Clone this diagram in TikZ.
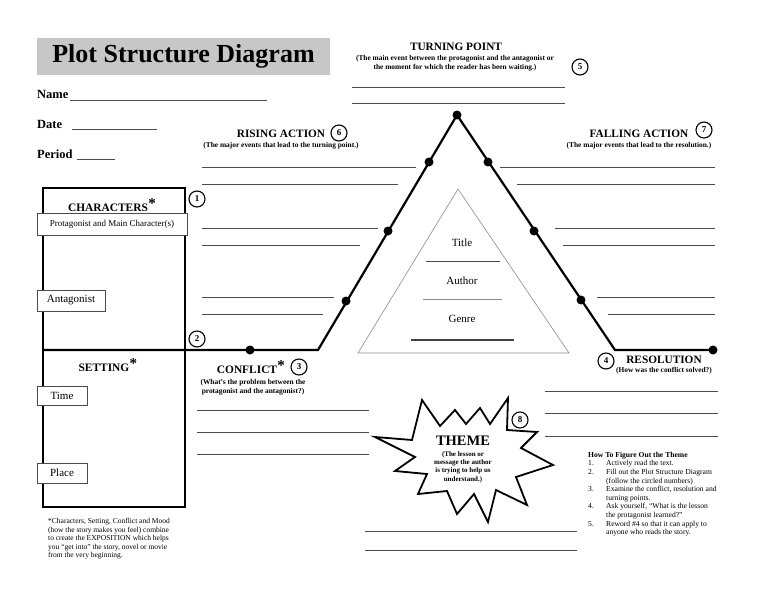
\documentclass[tikz,border=0pt]{standalone}
\usepackage{fontspec}
\setmainfont{Liberation Serif}
\begin{document}
\begin{tikzpicture}[x=1pt,y=-1pt,
  wline/.style={draw=black!70,line width=0.8pt},
  plot/.style={draw=black,line width=2.2pt},
  dot/.style={circle,fill=black,inner sep=0pt,minimum size=9pt},
  circ/.style={circle,draw=black,line width=1.1pt,minimum size=16pt,inner sep=0pt,font=\fontsize{9}{9}\selectfont\bfseries},
  head/.style={inner sep=0pt,font=\fontsize{11.3}{12}\selectfont\bfseries},
  sub/.style={inner sep=0pt,align=center,font=\fontsize{7.4}{8.8}\selectfont\bfseries},
  lbl/.style={inner sep=0pt,font=\fontsize{12.5}{14}\selectfont\bfseries},
  tag/.style={draw=black!70,line width=0.8pt,fill=white,inner sep=0pt,font=\fontsize{11}{12}\selectfont},
  ast/.style={inner sep=0pt,font=\fontsize{15}{15}\selectfont\bfseries},
  capt/.style={inner sep=0pt,font=\fontsize{11.4}{13}\selectfont\bfseries},
  tri/.style={inner sep=0pt,font=\fontsize{11}{12}\selectfont}
]
\useasboundingbox (0,0) rectangle (768,594);
\fill[white] (0,0) rectangle (768,594);

% title
\node[fill=black!22,minimum width=293pt,minimum height=37pt,inner sep=0pt,
      font=\fontsize{26}{28}\selectfont\bfseries] (title) at (183.5,56.5) {Plot Structure Diagram};

% name / date / period
\node[lbl,anchor=base west] (name) at (37,98) {Name};
\draw[wline] (70,100) -- (267,100);
\node[lbl,anchor=base west] (date) at (37,128) {Date};
\draw[wline] (72,129) -- (157,129);
\node[lbl,anchor=base west] (period) at (37,158) {Period};
\draw[wline] (77,159) -- (115,159);

% turning point
\node[head] (tp) at (456,47) {TURNING POINT};
\node[sub] (tpsub) at (455,63) {(The main event between the protagonist and the antagonist or\\the moment for which the reader has been waiting.)};
\node[circ] (c5) at (580,67) {5};
\draw[wline] (352,87) -- (565,87);
\draw[wline] (352,103) -- (565,103);

% rising action
\node[head] (ra) at (281,134) {RISING ACTION};
\node[circ] (c6) at (339,133) {6};
\node[sub] (rasub) at (281,146) {(The major events that lead to the turning point.)};
\draw[wline] (202,167) -- (416,167);
\draw[wline] (202,184) -- (398,184);
\draw[wline] (202,228) -- (378,228);
\draw[wline] (202,245) -- (360,245);
\draw[wline] (202,297) -- (334,297);
\draw[wline] (202,314) -- (323,314);

% falling action
\node[head] (fa) at (639,134) {FALLING ACTION};
\node[circ] (c7) at (704,130) {7};
\node[sub] (fasub) at (639,146) {(The major events that lead to the resolution.)};
\draw[wline] (500,167) -- (715,167);
\draw[wline] (517,184) -- (715,184);
\draw[wline] (555,228) -- (715,228);
\draw[wline] (563,245) -- (715,245);
\draw[wline] (597,297) -- (715,297);
\draw[wline] (608,314) -- (715,314);

% inner triangle
\draw[draw=black!45,line width=0.6pt] (458,189) -- (358,353) -- (569,353) -- cycle;
\node[tri] (ttl) at (462,243) {Title};
\draw[wline] (426,261) -- (500,261);
\node[tri] (aut) at (462,281) {Author};
\draw[draw=black!45,line width=0.8pt] (423,299) -- (502,299);
\node[tri] (gen) at (462,319) {Genre};
\draw[draw=black!75,line width=1.6pt] (411,340) -- (514,340);

% left box
\draw[line width=2pt] (43,188) rectangle (185,507);
\node[capt] (chars) at (108,208) {CHARACTERS};
\node[ast,anchor=west] (ast1) at (chars.north east) {*};
\node[tag,font=\fontsize{9}{10}\selectfont,minimum width=150pt,minimum height=22pt] (prot) at (112,224) {Protagonist and Main Character(s)};
\node[tag,minimum width=68pt,minimum height=21pt] (antag) at (71,300.5) {Antagonist};
\node[circ] (c1) at (197,199) {1};
\node[circ] (c2) at (197,339) {2};
\node[capt] (setting) at (104,368) {SETTING};
\node[ast,anchor=west] (ast2) at (setting.north east) {*};
\node[tag,minimum width=50pt,minimum height=19pt] (time) at (62,395.5) {Time};
\node[tag,minimum width=50pt,minimum height=20pt] (place) at (62,473) {Place};

% footnote
\node[inner sep=0pt,anchor=north west,align=left,font=\fontsize{7.5}{8.6}\selectfont] (foot) at (48,518)
{*Characters, Setting, Conflict and Mood\\(how the story makes you feel) combine\\to create the EXPOSITION which helps\\you “get into” the story, novel or movie\\from the very beginning.};

% plot line
\coordinate (p0) at (43,350);
\coordinate (p1) at (318,350);
\coordinate (top) at (457,115);
\coordinate (p2) at (615,350);
\coordinate (p3) at (713,350);
\draw[plot,line join=miter] (p0) -- (p1) -- (top) -- (p2) -- (p3);
\node[dot] (d3) at (250,350) {};
\node[dot] (dr1) at (346,301) {};
\node[dot] (dr2) at (388,231) {};
\node[dot] (dr3) at (429,162) {};
\node[dot] (dt) at (top) {};
\node[dot] (df1) at (488,162) {};
\node[dot] (df2) at (534,231) {};
\node[dot] (df3) at (581,300) {};
\node[dot] (d4) at (p3) {};

% conflict
\node[capt] (conf) at (247,370) {CONFLICT};
\node[ast,anchor=west] (ast3) at (conf.north east) {*};
\node[circ] (c3) at (299,367) {3};
\node[sub] (confsub) at (253,387) {(What's the problem between the\\protagonist and the antagonist?)};
\draw[wline] (197,410) -- (369,410);
\draw[wline] (197,432) -- (369,432);
\draw[wline] (197,454) -- (369,454);

% resolution
\node[circ] (c4) at (606,361) {4};
\node[head] (res) at (664,360) {RESOLUTION};
\node[sub] (ressub) at (664,371) {(How was the conflict solved?)};
\draw[wline] (545,391) -- (718,391);
\draw[wline] (545,413) -- (718,413);
\draw[wline] (545,436) -- (718,436);

% theme starburst
\draw[line width=1.8pt,line join=miter,fill=white]
 (375,437) -- (412,440) -- (422,400) -- (440,426) -- (455,410) -- (466,424) -- (480,408) -- (490,424)
 -- (508,398) -- (507,430) -- (537,432) -- (521,448) -- (553,465) -- (516,477) -- (527,505) -- (496,490)
 -- (488,522) -- (474,494) -- (457,514) -- (447,491) -- (418,494) -- (427,474) -- (395,471) -- (415,457) -- cycle;
\node[inner sep=0pt,font=\fontsize{14.5}{16}\selectfont\bfseries] (theme) at (463,441) {THEME};
\node[sub,font=\fontsize{7}{8.4}\selectfont\bfseries] (themesub) at (463,467) {(The lesson or\\message the author\\is trying to help us\\understand.)};
\node[circ] (c8) at (520,420) {8};
\draw[wline] (365,531) -- (577,531);
\draw[wline] (365,550) -- (577,550);

% how to
\node[inner sep=0pt,anchor=north west,align=left,font=\fontsize{7.6}{8.6}\selectfont] (howto) at (588,451)
{\begin{tabular}{@{}p{13pt}@{\hspace{5pt}}l@{}}
\multicolumn{2}{@{}l@{}}{\bfseries How To Figure Out the Theme}\\
1. & Actively read the text.\\
2. & Fill out the Plot Structure Diagram\\
   & (follow the circled numbers)\\
3. & Examine the conflict, resolution and\\
   & turning points.\\
4. & Ask yourself, “What is the lesson\\
   & the protagonist learned?”\\
5. & Reword \#4 so that it can apply to\\
   & anyone who reads the story.
\end{tabular}};
\end{tikzpicture}
\end{document}
